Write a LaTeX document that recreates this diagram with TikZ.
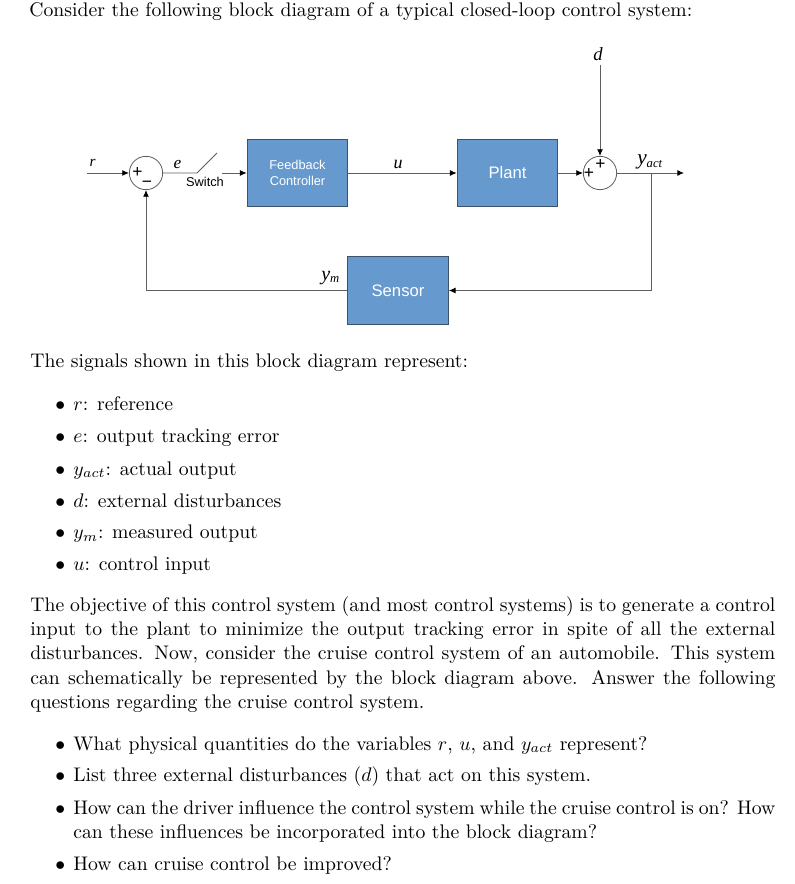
\documentclass[tikz,border=0pt]{standalone}
\usepackage{fontspec}
\usetikzlibrary{arrows.meta,positioning}

\newfontfamily\blockfont{Liberation Sans}
\newfontfamily\sigfont{Liberation Serif}

\definecolor{blockfill}{RGB}{102,153,206}
\definecolor{blockedge}{RGB}{62,82,105}
\definecolor{wirecol}{RGB}{95,95,95}

\tikzset{
	block/.style={draw=blockedge, line width=0.8pt, fill=blockfill, text=white,
		minimum width=75.5pt, minimum height=50.5pt, inner sep=0pt, align=center},
	sumjunc/.style={circle, draw=wirecol, line width=0.6pt, minimum size=25pt, inner sep=0pt},
	wire/.style={draw=wirecol, line width=0.7pt},
	sig/.style={wire, -{Latex[length=5pt, width=4.5pt, color=black]}},
	siglabel/.style={inner sep=0pt, anchor=base},
	signtext/.style={inner sep=0pt, font=\blockfont\fontsize{9.6}{12}\selectfont},
	sumsign/.style={inner sep=0pt, font=\blockfont\fontsize{13}{13}\selectfont},
	bodytext/.style={inner sep=0pt, anchor=base west, scale=1.4765, font=\fontsize{10}{12.25}\selectfont},
}

\begin{document}
\begin{tikzpicture}[
x=0.75pt,
y=-0.75pt,
]
	
	\useasboundingbox (0,0) rectangle (794,884);
	
	%%%%%%%%%%%%%%%%%%%%%%%%%%%%
	%Einleitung
	%%%%%%%%%%%%%%%%%%%%%%%%%%%%
	
	\node [bodytext] (intro) at (29,17) {Consider the following block diagram of a typical closed-loop control system:};
	
	%%%%%%%%%%%%%%%%%%%%%%%%%%%%
	%Bloecke und Summierstellen
	%%%%%%%%%%%%%%%%%%%%%%%%%%%%
	
	\node [block, font=\blockfont\fontsize{9.6}{12}\selectfont] (ctrl) at (297.5,173) {Feedback\\Controller};
	\node [block, font=\blockfont\fontsize{12.5}{14}\selectfont] (plant) at (507.5,173) {Plant};
	\node [block, font=\blockfont\fontsize{12.5}{14}\selectfont] (sensor) at (398,290.5) {Sensor};
	
	\node [sumjunc] (sumin) at (146,173) {};
	\node [sumjunc] (sumout) at (600,173) {};
	
	\node [sumsign] (sumin plus) at (137.5,172.5) {+};
	\node [sumsign] (sumin minus) at (147,184.5) {−};
	\node [sumsign] (sumout plus) at (589,173.5) {+};
	\node [sumsign] (sumout dplus) at (600.5,164) {+};
	
	%%%%%%%%%%%%%%%%%%%%%%%%%%%%
	%Signale
	%%%%%%%%%%%%%%%%%%%%%%%%%%%%
	
	\coordinate (rin) at (87,173);
	\coordinate (swa) at (197,173);
	\coordinate (swb) at (217,153);
	\coordinate (swc) at (222,173);
	\coordinate (dtop) at (600,65);
	\coordinate (tap) at (651,173);
	\coordinate (yout) at (684,173);
	
	\draw [sig] (rin) -- (sumin);
	\draw [wire] (sumin) -- (swa) -- (swb);
	\draw [sig] (swc) -- (ctrl);
	\draw [sig] (ctrl) -- (plant);
	\draw [sig] (plant) -- (sumout);
	\draw [sig] (dtop) -- (sumout);
	\draw [sig] (sumout) -- (yout);
	\draw [sig] (tap) |- (sensor);
	\draw [sig] (sensor) -| (sumin);
	
	\node [siglabel, font=\sigfont\itshape\fontsize{11.5}{12}\selectfont] (lr) at (92.5,167) {r};
	\node [siglabel, font=\sigfont\itshape\fontsize{13}{14}\selectfont] (le) at (177.5,169) {e};
	\node [signtext, anchor=base] (lsw) at (205,187) {Switch};
	\node [siglabel, font=\sigfont\itshape\fontsize{13.5}{14}\selectfont] (lu) at (398,169) {u};
	\node [siglabel, font=\sigfont\itshape\fontsize{14}{14}\selectfont] (ld) at (598,61) {d};
	\node [siglabel, anchor=base west, font=\sigfont\itshape\fontsize{16}{16}\selectfont] (lyact) at (637,165)
		{y\raisebox{-0.25ex}{\fontsize{9.5}{10}\selectfont act}};
	\node [siglabel, anchor=base west, font=\sigfont\itshape\fontsize{15}{15}\selectfont] (lym) at (321,280)
		{y\raisebox{-0.3ex}{\fontsize{9.5}{10}\selectfont m}};
	
	%%%%%%%%%%%%%%%%%%%%%%%%%%%%
	%Signalliste
	%%%%%%%%%%%%%%%%%%%%%%%%%%%%
	
	\node [bodytext] (signals) at (30,367) {The signals shown in this block diagram represent:};
	
	\node [bodytext] (dot1) at (55,410) {$\bullet$};
	\node [bodytext] (item1) at (73,410) {$r$: reference};
	\node [bodytext] (dot2) at (55,442.5) {$\bullet$};
	\node [bodytext] (item2) at (73,442.5) {$e$: output tracking error};
	\node [bodytext] (dot3) at (55,475) {$\bullet$};
	\node [bodytext] (item3) at (73,475) {$y_{act}$: actual output};
	\node [bodytext] (dot4) at (55,507) {$\bullet$};
	\node [bodytext] (item4) at (73,507) {$d$: external disturbances};
	\node [bodytext] (dot5) at (55,538.5) {$\bullet$};
	\node [bodytext] (item5) at (73,538.5) {$y_m$: measured output};
	\node [bodytext] (dot6) at (55,570) {$\bullet$};
	\node [bodytext] (item6) at (73,570) {$u$: control input};
	
	%%%%%%%%%%%%%%%%%%%%%%%%%%%%
	%Aufgabentext
	%%%%%%%%%%%%%%%%%%%%%%%%%%%%
	
	\node [bodytext, text width=378.4pt, align=justify] (task) at (30,611.7) {The objective of this control system (and most control systems) is to generate a control\linebreak
		input to the plant to minimize the output tracking error in spite of all the external\linebreak
		disturbances. Now, consider the cruise control system of an automobile. This system\linebreak
		can schematically be represented by the block diagram above. Answer the following\linebreak
		questions regarding the cruise control system.};
	
	\node [bodytext] (qdot1) at (55,750) {$\bullet$};
	\node [bodytext] (q1) at (73,750) {What physical quantities do the variables $r$, $u$, and $y_{act}$ represent?};
	\node [bodytext] (qdot2) at (55,781.7) {$\bullet$};
	\node [bodytext] (q2) at (73,781.7) {List three external disturbances ($d$) that act on this system.};
	\node [bodytext] (qdot3) at (55,814) {$\bullet$};
	\node [bodytext, text width=356.6pt, align=justify] (q3) at (73,814) {How can the driver influence the control system while the cruise control is on? How\linebreak
		can these influences be incorporated into the block diagram?};
	\node [bodytext] (qdot4) at (55,870) {$\bullet$};
	\node [bodytext] (q4) at (73,870) {How can cruise control be improved?};
	
\end{tikzpicture}
\end{document}
